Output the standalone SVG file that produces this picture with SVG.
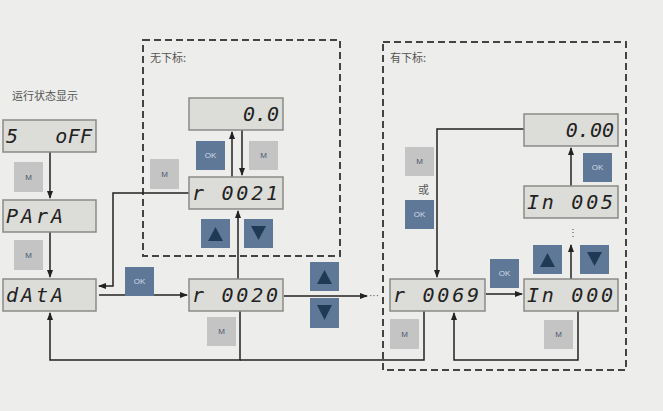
<svg xmlns="http://www.w3.org/2000/svg" width="663" height="411" viewBox="0 0 663 411">
<defs>
<style>
.lcd{fill:#dcdcd8;stroke:#8a8a8a;stroke-width:1.5}
.seg{font-family:"DejaVu Sans Mono",monospace;font-style:italic;font-size:20px;fill:#222}
.m{fill:#c4c4c4}
.ok{fill:#5f7898}
.bt{font-family:"Liberation Sans",sans-serif;font-size:8px;text-anchor:middle}
.lbl{font-family:"Noto Sans CJK SC",sans-serif;font-size:11px;fill:#555}
.ln{fill:none;stroke:#222;stroke-width:1.5}
.dash{fill:none;stroke:#444;stroke-width:2;stroke-dasharray:7,4}
.tri{fill:#1f3a55}
</style>
<marker id="a" markerWidth="8" markerHeight="8" refX="7" refY="4" orient="auto" markerUnits="userSpaceOnUse"><path d="M0,1 L8,4 L0,7z" fill="#222"/></marker>
</defs>
<rect width="663" height="411" fill="#ededeb"/>
<rect class="dash" x="143" y="40" width="197" height="216"/>
<rect class="dash" x="383" y="42" width="243" height="328"/>
<text class="lbl" x="12" y="100">运行状态显示</text>
<text class="lbl" x="150" y="62">无下标:</text>
<text class="lbl" x="390" y="62">有下标:</text>
<text class="lbl" x="418" y="194">或</text>
<g id="connectors">
<line class="ln" x1="50" y1="152" x2="50" y2="198" marker-end="url(#a)"/>
<line class="ln" x1="50" y1="232" x2="50" y2="277" marker-end="url(#a)"/>
<polyline class="ln" points="189,193 113,193 113,286 99,286" marker-end="url(#a)"/>
<line class="ln" x1="99" y1="295" x2="187" y2="295" marker-end="url(#a)"/>
<line class="ln" x1="238" y1="279" x2="238" y2="211" marker-end="url(#a)"/>
<line class="ln" x1="232" y1="177" x2="232" y2="132" marker-end="url(#a)"/>
<line class="ln" x1="242" y1="130" x2="242" y2="175" marker-end="url(#a)"/>
<line class="ln" x1="284" y1="296" x2="367" y2="296" marker-end="url(#a)"/>
<text x="369" y="299" font-family="Liberation Sans,sans-serif" font-size="10" fill="#555">···</text>
<polyline class="ln" points="240,311 240,360 50,360 50,313" marker-end="url(#a)"/>
<polyline class="ln" points="424,311 424,360 240,360"/>
<polyline class="ln" points="524,129 437,129 437,277" marker-end="url(#a)"/>
<line class="ln" x1="486" y1="294" x2="522" y2="294" marker-end="url(#a)"/>
<polyline class="ln" points="578,311 578,360 454,360 454,313" marker-end="url(#a)"/>
<line class="ln" x1="571" y1="186" x2="571" y2="148" marker-end="url(#a)"/>
<line class="ln" x1="571" y1="279" x2="571" y2="245" marker-end="url(#a)"/>
<text x="568" y="236" font-family="Liberation Sans,sans-serif" font-size="10" fill="#555">⋮</text>
</g>
<g id="n-soff"><rect class="lcd" x="3" y="120" width="93" height="32"/><text class="seg" x="6" y="143" xml:space="preserve" textLength="86" lengthAdjust="spacing">5   oFF</text></g>
<g id="n-para"><rect class="lcd" x="3" y="200" width="93" height="32"/><text class="seg" x="6" y="223" letter-spacing="3">PArA</text></g>
<g id="n-data"><rect class="lcd" x="3" y="279" width="93" height="32"/><text class="seg" x="6" y="302" letter-spacing="3">dAtA</text></g>
<g id="n-00"><rect class="lcd" x="189" y="98" width="94" height="32"/><text class="seg" x="279" y="121" text-anchor="end">0.0</text></g>
<g id="n-r0021"><rect class="lcd" x="189" y="177" width="94" height="32"/><text class="seg" x="192" y="200" xml:space="preserve" textLength="86" lengthAdjust="spacing">r 0021</text></g>
<g id="n-r0020"><rect class="lcd" x="189" y="279" width="94" height="32"/><text class="seg" x="192" y="302" xml:space="preserve" textLength="86" lengthAdjust="spacing">r 0020</text></g>
<g id="n-r0069"><rect class="lcd" x="390" y="279" width="95" height="32"/><text class="seg" x="393" y="302" xml:space="preserve" textLength="86" lengthAdjust="spacing">r 0069</text></g>
<g id="n-000"><rect class="lcd" x="524" y="114" width="94" height="32"/><text class="seg" x="614" y="137" text-anchor="end">0.00</text></g>
<g id="n-in005"><rect class="lcd" x="524" y="186" width="94" height="32"/><text class="seg" x="527" y="209" xml:space="preserve" textLength="86" lengthAdjust="spacing">In 005</text></g>
<g id="n-in000"><rect class="lcd" x="524" y="279" width="94" height="32"/><text class="seg" x="527" y="302" xml:space="preserve" textLength="86" lengthAdjust="spacing">In 000</text></g>
<g id="buttons">
<rect class="m" x="14" y="162" width="29" height="30"/><text class="bt" x="28.5" y="180" fill="#4a5a70">M</text>
<rect class="m" x="14" y="240" width="29" height="30"/><text class="bt" x="28.5" y="258" fill="#4a5a70">M</text>
<rect class="ok" x="196" y="141" width="29" height="29"/><text class="bt" x="210.5" y="158" fill="#cfd8e4">OK</text>
<rect class="m" x="249" y="141" width="29" height="29"/><text class="bt" x="263.5" y="158" fill="#4a5a70">M</text>
<rect class="m" x="150" y="159" width="29" height="30"/><text class="bt" x="164.5" y="177" fill="#4a5a70">M</text>
<rect class="ok" x="201" y="219" width="29" height="29"/><path class="tri" d="M208,241 L215.5,227 L223,241z"/>
<rect class="ok" x="244" y="219" width="29" height="29"/><path class="tri" d="M251,226 L258.5,240 L266,226z"/>
<rect class="ok" x="125" y="267" width="29" height="29"/><text class="bt" x="139.5" y="284" fill="#cfd8e4">OK</text>
<rect class="m" x="207" y="317" width="29" height="29"/><text class="bt" x="221.5" y="334" fill="#4a5a70">M</text>
<rect class="ok" x="310" y="262" width="29" height="29"/><path class="tri" d="M317,284 L324.5,270 L332,284z"/>
<rect class="ok" x="310" y="298" width="29" height="30"/><path class="tri" d="M317,305 L324.5,320 L332,305z"/>
<rect class="m" x="390" y="319" width="29" height="30"/><text class="bt" x="404.5" y="337" fill="#4a5a70">M</text>
<rect class="m" x="405" y="147" width="29" height="29"/><text class="bt" x="419.5" y="164" fill="#4a5a70">M</text>
<rect class="ok" x="405" y="200" width="29" height="29"/><text class="bt" x="419.5" y="217" fill="#cfd8e4">OK</text>
<rect class="ok" x="583" y="153" width="29" height="29"/><text class="bt" x="597.5" y="170" fill="#cfd8e4">OK</text>
<rect class="ok" x="533" y="245" width="29" height="29"/><path class="tri" d="M540,267 L547.5,253 L555,267z"/>
<rect class="ok" x="580" y="245" width="29" height="29"/><path class="tri" d="M587,252 L594.5,266 L602,252z"/>
<rect class="ok" x="490" y="259" width="29" height="29"/><text class="bt" x="504.5" y="276" fill="#cfd8e4">OK</text>
<rect class="m" x="544" y="320" width="29" height="29"/><text class="bt" x="558.5" y="337" fill="#4a5a70">M</text>
</g>
</svg>
